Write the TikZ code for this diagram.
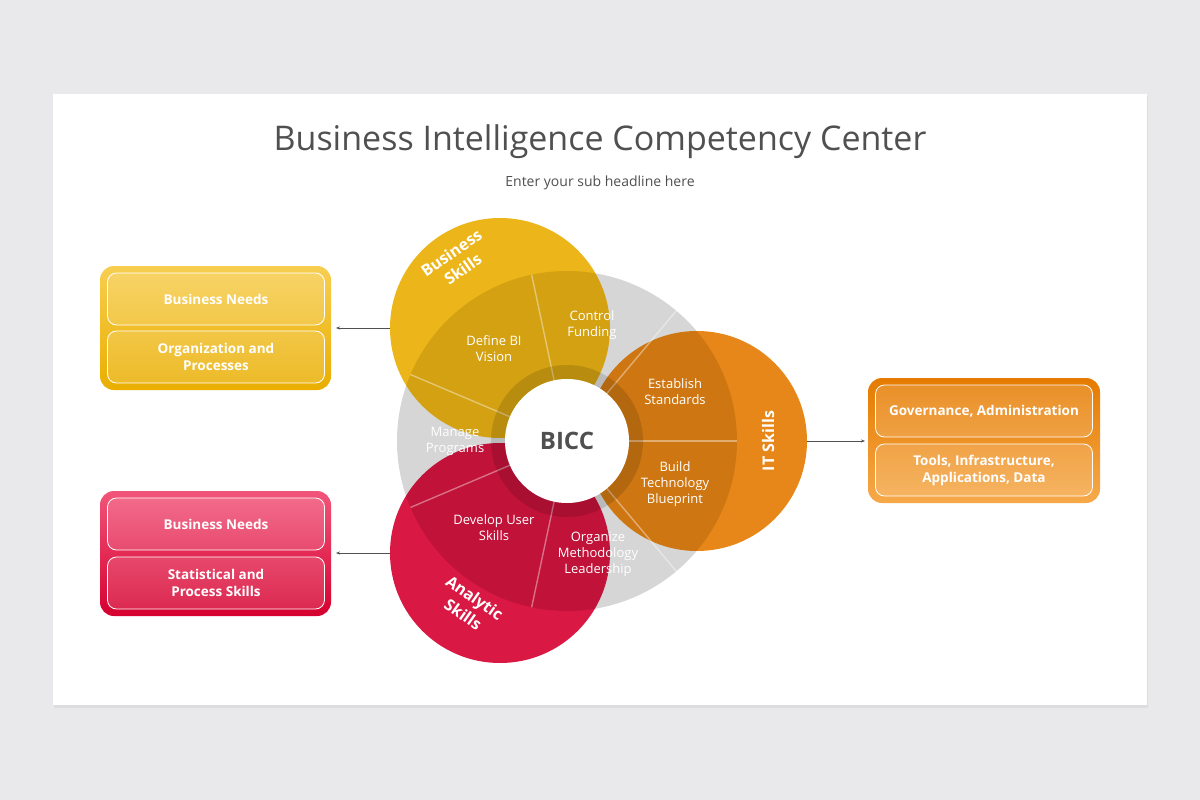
\documentclass[tikz,border=0pt]{standalone}
\usepackage{fontspec}
\setmainfont{Open Sans}
\usetikzlibrary{arrows.meta}
\definecolor{bg}{HTML}{E9E8EA}
\definecolor{yel}{HTML}{EAAE00}
\definecolor{yelL}{HTML}{F7CE50}
\definecolor{ora}{HTML}{E57B00}
\definecolor{oraL}{HTML}{F6A94A}
\definecolor{redc}{HTML}{D5002F}
\definecolor{redL}{HTML}{F2557A}
\definecolor{gry}{HTML}{D6D6D6}
\definecolor{tgray}{HTML}{505050}
\tikzset{
 lbl/.style={text=white, font=\fontsize{13}{16}\selectfont, align=center},
 skl/.style={text=white, font=\bfseries\fontsize{16}{20}\selectfont, align=center, inner sep=1pt},
 sub/.style={draw=white, line width=0.8pt, rounded corners=9pt, fill=white, fill opacity=0.15, text opacity=1, minimum width=217pt, minimum height=52pt, text=white, font=\bfseries\fontsize{13.5}{17}\selectfont, align=center},
 arr/.style={draw=tgray, line width=0.6pt, -{Stealth[length=4pt,width=3pt]}},
}
\begin{document}
\begin{tikzpicture}[x=1pt,y=-1pt]
\useasboundingbox (0,0) rectangle (1200,800);
\fill[bg] (0,0) rectangle (1200,800);
\fill[black,opacity=0.05] (54,96) rectangle (1148,708);
\fill[white] (53,94) rectangle (1147,705);
\node[text=tgray, font=\fontsize{34}{40}\selectfont] (title) at (600,142) {Business Intelligence Competency Center};
\node[text=tgray, font=\fontsize{14}{16}\selectfont] (subt) at (600,183) {Enter your sub headline here};
% wheel
\begin{scope}[shift={(567,441)},x=1pt,y=1pt]
\fill[gry] (0,0) circle (170pt);
\fill[yel,opacity=0.9] (-67,113) circle (110pt);
\fill[ora,opacity=0.9] (130,0) circle (110pt);
\fill[redc,opacity=0.9] (-67,-112) circle (110pt);
\begin{scope}
\clip (0,0) circle (170pt);
\fill[black,opacity=0.09] (-67,113) circle (110pt);
\fill[black,opacity=0.09] (130,0) circle (110pt);
\fill[black,opacity=0.09] (-67,-112) circle (110pt);
\end{scope}
\foreach \a in {102,157,50,0,-50,-102,-157}
  \draw[white,opacity=0.4,line width=1.4pt] (\a:62) -- (\a:170);
\fill[black,opacity=0.13,even odd rule] (0,0) circle (76pt) (0,0) circle (62pt);
\node[circle,fill=white,minimum size=124pt,text=tgray,font=\bfseries\fontsize{24}{28}\selectfont] (bicc) at (0,0) {BICC};
\coordinate (ya) at (-177,113);
\coordinate (ra) at (-177,-112);
\coordinate (oa) at (240,0);
\end{scope}
\node[lbl] (d1) at (494,349) {Define BI\\Vision};
\node[lbl] (d2) at (592,325) {Control\\Funding};
\node[lbl] (d3) at (675,392) {Establish\\Standards};
\node[lbl] (d4) at (675,484) {Build\\Technology\\Blueprint};
\node[lbl] (d5) at (598,554) {Organize\\Methodology\\Leadership};
\node[lbl] (d6) at (494,528) {Develop User\\Skills};
\node[lbl] (d7) at (455,441) {Manage\\Programs};
\node[skl,rotate=35] (s1) at (457,261) {Business\\Skills};
\node[skl,rotate=-35] (s2) at (469,606) {Analytic\\Skills};
\node[skl,rotate=90] (s3) at (768,441) {IT Skills};
% boxes
\shade[top color=yelL, bottom color=yel, rounded corners=14pt] (100,266) rectangle (331,390);
\node[sub] (b1) at (216,299) {Business Needs};
\node[sub] (b2) at (216,357) {Organization and\\Processes};
\shade[top color=redL, bottom color=redc, rounded corners=14pt] (100,491) rectangle (331,616);
\node[sub] (b3) at (216,524) {Business Needs};
\node[sub] (b4) at (216,583) {Statistical and\\Process Skills};
\shade[top color=ora, bottom color=oraL, rounded corners=14pt] (868,378) rectangle (1100,503);
\node[sub] (b5) at (984,411) {Governance, Administration};
\node[sub] (b6) at (984,470) {Tools, Infrastructure,\\Applications, Data};
\coordinate (yt) at (336,328);
\coordinate (rt) at (336,553);
\coordinate (ot) at (865,441);
\draw[arr] (ya) -- (yt);
\draw[arr] (ra) -- (rt);
\draw[arr] (oa) -- (ot);
\end{tikzpicture}
\end{document}
